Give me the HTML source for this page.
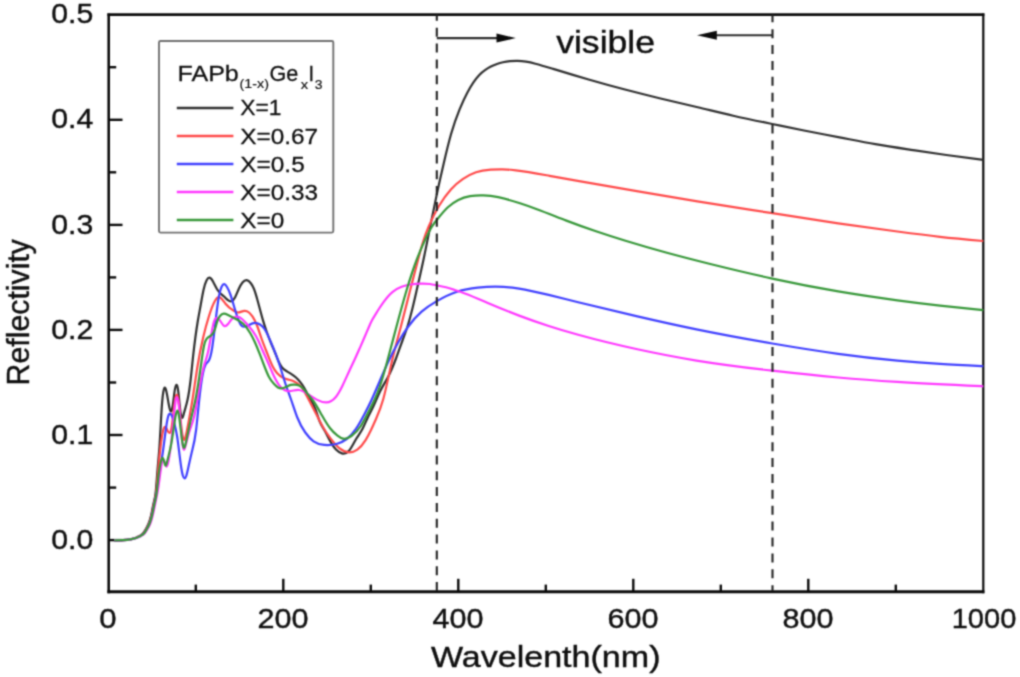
<!DOCTYPE html>
<html lang="en"><head><meta charset="utf-8"><title>Reflectivity</title>
<style>html,body{margin:0;padding:0;background:#fff}svg{display:block}text{font-family:"Liberation Sans",Arial,sans-serif;fill:#0e0e0e;stroke:#0e0e0e;stroke-width:0.4px}.lg text{stroke-width:0.28px}.lg text.sb{stroke-width:0.15px}</style></head><body>
<svg width="1020" height="677" viewBox="0 0 1020 677">
<defs><filter id="soft" x="0" y="0" width="100%" height="100%" filterUnits="userSpaceOnUse" color-interpolation-filters="sRGB"><feConvolveMatrix order="5" kernelMatrix="0.00009 0.00198 0.00548 0.00198 0.00009 0.00198 0.04220 0.11707 0.04220 0.00198 0.00548 0.11707 0.32480 0.11707 0.00548 0.00198 0.04220 0.11707 0.04220 0.00198 0.00009 0.00198 0.00548 0.00198 0.00009" edgeMode="duplicate"/></filter></defs>
<g filter="url(#soft)">
<rect width="1020" height="677" fill="#fff"/>
<g stroke="#0a0a0a" fill="none">
<line x1="108.7" y1="13.5" x2="108.7" y2="593.2" stroke-width="2.6"/>
<line x1="107.4" y1="591.8" x2="984.4" y2="591.8" stroke-width="3"/>
<line x1="107.4" y1="14.7" x2="984.4" y2="14.7" stroke-width="2.8"/>
<line x1="983.3" y1="13.6" x2="983.3" y2="593.2" stroke-width="2.2"/>
<g stroke-width="2.4">
<line x1="108.7" y1="540.1" x2="122.5" y2="540.1"/>
<line x1="108.7" y1="487.6" x2="116.2" y2="487.6"/>
<line x1="108.7" y1="435.0" x2="122.5" y2="435.0"/>
<line x1="108.7" y1="382.5" x2="116.2" y2="382.5"/>
<line x1="108.7" y1="329.9" x2="122.5" y2="329.9"/>
<line x1="108.7" y1="277.4" x2="116.2" y2="277.4"/>
<line x1="108.7" y1="224.9" x2="122.5" y2="224.9"/>
<line x1="108.7" y1="172.3" x2="116.2" y2="172.3"/>
<line x1="108.7" y1="119.8" x2="122.5" y2="119.8"/>
<line x1="108.7" y1="67.2" x2="116.2" y2="67.2"/>
<line x1="195.8" y1="591.8" x2="195.8" y2="584.6"/>
<line x1="283.3" y1="591.8" x2="283.3" y2="578.8"/>
<line x1="370.8" y1="591.8" x2="370.8" y2="584.6"/>
<line x1="458.3" y1="591.8" x2="458.3" y2="578.8"/>
<line x1="545.8" y1="591.8" x2="545.8" y2="584.6"/>
<line x1="633.3" y1="591.8" x2="633.3" y2="578.8"/>
<line x1="720.8" y1="591.8" x2="720.8" y2="584.6"/>
<line x1="808.3" y1="591.8" x2="808.3" y2="578.8"/>
<line x1="895.8" y1="591.8" x2="895.8" y2="584.6"/>
</g></g>
<g fill="none" stroke-width="2.2" stroke-linejoin="round" stroke-linecap="butt">
<path stroke="#303030" stroke-opacity="1" d="M114.20 540.30C117.00 540.31 119.80 540.32 122.60 540.15C125.46 539.98 128.32 539.62 131.18 539.10C132.59 538.84 134.01 538.55 135.42 538.00C136.84 537.45 138.25 536.65 139.67 535.90C140.83 535.29 141.98 534.70 143.14 533.30C143.99 532.26 144.85 530.78 145.70 529.30C146.60 527.74 147.50 526.19 148.40 524.00C149.00 522.54 149.60 520.80 150.20 518.70C150.77 516.71 151.33 514.40 151.90 511.60C152.50 508.63 153.10 505.12 153.70 502.70C154.30 500.28 154.90 498.95 155.50 493.90C156.17 488.29 156.83 478.09 157.50 470.00C158.17 461.91 158.83 455.94 159.50 446.00C160.30 434.07 161.10 416.44 161.90 405.40C162.37 398.96 162.83 394.76 163.30 392.00C163.80 389.04 164.30 387.73 164.80 387.70C165.30 387.67 165.80 388.93 166.30 391.00C167.03 394.04 167.77 398.85 168.50 403.00C169.23 407.15 169.97 410.64 170.70 411.30C171.30 411.84 171.90 410.49 172.50 407.00C173.17 403.12 173.83 396.59 174.50 392.00C175.13 387.64 175.77 385.04 176.40 384.80C177.00 384.57 177.60 386.47 178.20 391.00C178.80 395.53 179.40 402.68 180.00 408.00C180.63 413.61 181.27 417.18 181.90 417.80C182.60 418.49 183.30 415.58 184.00 413.00C185.20 408.58 186.40 405.14 187.60 399.50C188.60 394.80 189.60 388.57 190.60 380.00C191.47 372.57 192.33 363.39 193.20 355.40C193.90 348.95 194.60 343.27 195.30 338.00C196.13 331.72 196.97 326.01 197.80 321.00C198.77 315.19 199.73 310.34 200.70 305.00C201.63 299.85 202.57 294.24 203.50 290.00C204.50 285.45 205.50 282.47 206.50 280.50C207.53 278.47 208.57 277.52 209.60 277.70C210.73 277.90 211.87 279.47 213.00 281.50C214.40 284.01 215.80 287.22 217.20 289.50C219.47 293.19 221.73 294.44 224.00 296.50C226.47 298.74 228.93 301.95 231.40 301.30C232.60 300.98 233.80 299.75 235.00 297.50C236.17 295.31 237.33 292.15 238.50 289.50C239.83 286.47 241.17 284.12 242.50 282.50C243.90 280.80 245.30 279.92 246.70 280.10C248.13 280.28 249.57 281.57 251.00 283.50C252.00 284.84 253.00 286.50 254.00 289.00C255.10 291.75 256.20 295.53 257.30 299.50C258.20 302.75 259.10 306.13 260.00 309.50C261.00 313.25 262.00 316.99 263.00 320.40C264.20 324.49 265.40 328.11 266.60 331.50C268.07 335.65 269.53 339.46 271.00 343.00C272.47 346.54 273.93 349.81 275.40 353.50C276.47 356.18 277.53 359.08 278.60 361.50C279.73 364.07 280.87 366.08 282.00 367.50C283.33 369.17 284.67 370.00 286.00 370.80C287.57 371.74 289.13 372.63 290.70 373.60C292.47 374.70 294.23 375.90 296.00 377.50C297.37 378.74 298.73 380.22 300.10 381.90C301.40 383.49 302.70 385.26 304.00 387.50C305.33 389.79 306.67 392.58 308.00 395.00C310.50 399.54 313.00 402.78 315.50 409.50C316.83 413.08 318.17 417.65 319.50 421.00C321.30 425.52 323.10 427.81 324.90 431.00C326.27 433.42 327.63 436.36 329.00 439.00C331.33 443.51 333.67 447.15 336.00 449.60C337.97 451.67 339.93 452.90 341.90 453.40C344.27 454.01 346.63 453.57 349.00 450.80C351.37 448.03 353.73 442.93 356.10 439.00C358.30 435.35 360.50 432.71 362.70 428.50C364.47 425.12 366.23 420.73 368.00 417.00C369.77 413.27 371.53 410.21 373.30 406.50C375.53 401.81 377.77 396.10 380.00 391.50C382.67 386.01 385.33 382.10 388.00 377.00C390.67 371.90 393.33 365.61 396.00 358.50C398.17 352.72 400.33 346.40 402.50 340.50C404.27 335.69 406.03 331.15 407.80 325.50C409.30 320.71 410.80 315.12 412.30 309.00C413.70 303.29 415.10 297.13 416.50 291.00C418.67 281.52 420.83 272.12 423.00 262.00C425.90 248.45 428.80 233.60 431.70 219.10C433.70 209.10 435.70 199.27 437.70 190.00C439.67 180.89 441.63 172.32 443.60 163.90C446.07 153.33 448.53 142.99 451.00 134.30C453.83 124.32 456.67 116.52 459.50 109.60C462.10 103.25 464.70 97.64 467.30 92.70C471.23 85.23 475.17 79.28 479.10 75.20C481.07 73.16 483.03 71.59 485.00 70.20C486.97 68.81 488.93 67.61 490.90 66.60C492.93 65.55 494.97 64.71 497.00 64.00C499.00 63.30 501.00 62.74 503.00 62.30C505.33 61.78 507.67 61.43 510.00 61.20C512.57 60.94 515.13 60.83 517.70 60.90C520.47 60.97 523.23 61.26 526.00 61.70C529.13 62.20 532.27 62.90 535.40 63.70C541.33 65.21 547.27 67.07 553.20 68.90C565.00 72.54 576.80 76.09 588.60 79.50C600.40 82.91 612.20 86.19 624.00 89.30C635.83 92.42 647.67 95.37 659.50 98.20C672.23 101.24 684.97 104.15 697.70 107.20C709.53 110.03 721.37 113.00 733.20 115.70C746.17 118.66 759.13 121.32 772.10 124.00C782.73 126.20 793.37 128.41 804.00 130.50C815.83 132.83 827.67 135.00 839.50 137.30C851.47 139.63 863.43 142.09 875.40 144.20C887.23 146.29 899.07 148.03 910.90 149.80C922.70 151.57 934.50 153.36 946.30 155.00C958.63 156.71 970.97 158.26 983.30 159.80"/>
<path stroke="#ff4a4a" stroke-opacity="1" d="M114.20 540.30C117.02 540.31 119.83 540.32 122.65 540.15C125.56 539.98 128.46 539.62 131.37 539.10C132.81 538.84 134.24 538.55 135.68 538.00C137.12 537.45 138.55 536.65 139.99 535.90C141.17 535.29 142.34 534.71 143.52 533.30C144.38 532.27 145.24 530.79 146.10 529.30C147.00 527.74 147.90 526.18 148.80 524.00C149.40 522.55 150.00 520.82 150.60 518.70C151.17 516.70 151.73 514.35 152.30 511.60C152.90 508.68 153.50 505.31 154.10 502.70C154.70 500.09 155.30 498.25 155.90 493.90C156.67 488.35 157.43 478.71 158.20 470.00C158.97 461.29 159.73 453.51 160.50 447.00C161.33 439.93 162.17 434.37 163.00 431.00C163.80 427.77 164.60 426.55 165.40 427.00C166.10 427.39 166.80 429.06 167.50 430.50C168.20 431.94 168.90 433.16 169.60 433.00C170.23 432.85 170.87 431.57 171.50 428.00C172.17 424.24 172.83 417.95 173.50 412.00C174.07 406.94 174.63 402.12 175.20 399.00C175.67 396.43 176.13 395.00 176.60 394.80C177.07 394.60 177.53 395.62 178.00 398.00C178.67 401.40 179.33 407.55 180.00 414.00C180.67 420.45 181.33 427.18 182.00 432.00C182.57 436.10 183.13 438.81 183.70 439.60C184.30 440.44 184.90 439.13 185.50 437.00C186.33 434.04 187.17 429.50 188.00 425.00C189.47 417.08 190.93 409.27 192.40 400.00C194.00 389.89 195.60 378.04 197.20 368.00C199.17 355.66 201.13 346.06 203.10 337.70C205.07 329.34 207.03 322.23 209.00 316.00C210.97 309.77 212.93 304.42 214.90 301.00C216.27 298.62 217.63 297.18 219.00 297.20C221.17 297.23 223.33 300.96 225.50 303.70C228.27 307.20 231.03 309.11 233.80 310.80C235.17 311.64 236.53 312.42 237.90 312.50C240.07 312.63 242.23 311.00 244.40 310.80C245.93 310.66 247.47 311.24 249.00 312.50C250.20 313.49 251.40 314.89 252.60 316.70C254.20 319.11 255.80 322.24 257.40 326.50C258.77 330.14 260.13 334.59 261.50 338.50C262.97 342.69 264.43 346.25 265.90 350.00C268.17 355.80 270.43 362.07 272.70 366.50C274.13 369.30 275.57 371.36 277.00 373.00C279.20 375.51 281.40 377.02 283.60 378.00C285.47 378.83 287.33 379.28 289.20 379.80C290.87 380.26 292.53 380.78 294.20 381.50C296.17 382.35 298.13 383.47 300.10 385.60C301.40 387.01 302.70 388.85 304.00 391.00C305.63 393.70 307.27 396.87 308.90 400.00C311.50 404.99 314.10 409.89 316.70 415.00C319.07 419.65 321.43 424.47 323.80 428.50C325.90 432.07 328.00 435.01 330.10 437.80C333.27 442.00 336.43 445.84 339.60 448.40C342.73 450.93 345.87 452.20 349.00 452.30C351.77 452.39 354.53 451.56 357.30 449.60C360.07 447.64 362.83 444.54 365.60 440.10C367.40 437.21 369.20 433.75 371.00 430.00C372.67 426.52 374.33 422.79 376.00 419.00C378.43 413.46 380.87 407.80 383.30 399.00C386.20 388.51 389.10 373.58 392.00 361.00C394.97 348.14 397.93 337.74 400.90 326.50C403.87 315.26 406.83 303.17 409.80 291.50C412.53 280.75 415.27 270.36 418.00 260.00C419.67 253.68 421.33 247.37 423.00 242.00C424.90 235.88 426.80 230.97 428.70 226.50C432.17 218.34 435.63 211.60 439.10 205.80C443.03 199.21 446.97 193.83 450.90 189.50C454.83 185.17 458.77 181.91 462.70 179.20C467.13 176.15 471.57 173.79 476.00 172.30C480.93 170.64 485.87 170.04 490.80 169.70C494.73 169.43 498.67 169.32 502.60 169.40C507.03 169.49 511.47 169.82 515.90 170.30C527.13 171.52 538.37 173.71 549.60 175.80C559.43 177.63 569.27 179.37 579.10 181.10C598.80 184.57 618.50 188.00 638.20 191.40C657.93 194.80 677.67 198.18 697.40 201.40C722.37 205.48 747.33 209.31 772.30 213.20C794.27 216.62 816.23 220.08 838.20 223.30C857.93 226.19 877.67 228.88 897.40 231.50C911.60 233.38 925.80 235.23 940.00 236.80C954.43 238.39 968.87 239.70 983.30 241.00"/>
<path stroke="#4040ff" stroke-opacity="1" d="M114.20 540.30C117.03 540.31 119.87 540.31 122.70 540.15C125.67 539.98 128.63 539.62 131.60 539.10C133.07 538.84 134.53 538.55 136.00 538.00C137.47 537.45 138.93 536.64 140.40 535.90C141.60 535.29 142.80 534.72 144.00 533.30C144.87 532.27 145.73 530.80 146.60 529.30C147.50 527.75 148.40 526.17 149.30 524.00C149.90 522.55 150.50 520.84 151.10 518.70C151.67 516.68 152.23 514.29 152.80 511.60C153.40 508.76 154.00 505.59 154.60 502.70C155.20 499.81 155.80 497.21 156.40 493.90C157.60 487.29 158.80 477.86 160.00 470.00C161.00 463.45 162.00 457.98 163.00 451.00C164.07 443.56 165.13 434.39 166.20 427.00C166.80 422.84 167.40 419.24 168.00 417.00C168.70 414.38 169.40 413.61 170.10 413.70C170.73 413.79 171.37 414.58 172.00 416.00C172.83 417.87 173.67 420.81 174.50 424.00C175.40 427.45 176.30 431.20 177.20 437.00C178.00 442.16 178.80 448.94 179.60 455.40C180.17 459.97 180.73 464.38 181.30 468.00C181.80 471.19 182.30 473.77 182.80 475.50C183.37 477.46 183.93 478.34 184.50 478.40C185.10 478.46 185.70 477.60 186.30 475.80C186.87 474.10 187.43 471.58 188.00 469.00C189.20 463.54 190.40 457.86 191.60 453.00C193.10 446.92 194.60 442.13 196.10 430.00C197.13 421.64 198.17 409.80 199.20 400.00C200.47 387.99 201.73 379.05 203.00 373.00C203.80 369.18 204.60 366.51 205.40 364.90C206.60 362.48 207.80 362.44 209.00 360.20C209.97 358.39 210.93 355.16 211.90 349.50C212.70 344.81 213.50 338.47 214.30 331.80C214.97 326.24 215.63 320.47 216.30 315.00C217.20 307.62 218.10 300.81 219.00 296.00C219.83 291.55 220.67 288.82 221.50 287.00C222.43 284.96 223.37 284.04 224.30 284.20C225.20 284.35 226.10 285.50 227.00 287.00C228.07 288.78 229.13 291.07 230.20 294.00C231.57 297.76 232.93 302.58 234.30 307.20C235.70 311.93 237.10 316.44 238.50 320.00C239.33 322.12 240.17 323.90 241.00 325.00C241.93 326.24 242.87 326.62 243.80 326.70C245.53 326.84 247.27 325.93 249.00 325.00C251.00 323.93 253.00 322.86 255.00 322.80C256.67 322.75 258.33 323.42 260.00 324.50C261.50 325.48 263.00 326.79 264.50 329.00C266.83 332.43 269.17 338.01 271.50 343.60C273.87 349.27 276.23 354.97 278.60 362.00C280.97 369.03 283.33 377.41 285.70 384.50C287.53 390.00 289.37 394.73 291.20 400.00C293.17 405.66 295.13 411.94 297.10 417.00C299.83 424.03 302.57 428.69 305.30 432.50C308.07 436.36 310.83 439.35 313.60 441.30C317.13 443.79 320.67 444.59 324.20 444.90C328.53 445.28 332.87 444.94 337.20 443.70C340.37 442.79 343.53 441.41 346.70 439.00C349.83 436.62 352.97 433.23 356.10 428.60C358.87 424.51 361.63 419.45 364.40 414.20C366.77 409.71 369.13 405.09 371.50 400.00C374.33 393.91 377.17 387.14 380.00 380.50C383.03 373.39 386.07 366.42 389.10 360.00C392.07 353.72 395.03 347.96 398.00 342.70C401.43 336.61 404.87 331.19 408.30 326.50C412.73 320.44 417.17 315.59 421.60 311.70C426.53 307.37 431.47 304.24 436.40 301.40C443.27 297.44 450.13 294.05 457.00 291.80C463.90 289.54 470.80 288.44 477.70 287.70C483.63 287.06 489.57 286.69 495.50 286.70C503.37 286.71 511.23 287.39 519.10 288.60C528.97 290.12 538.83 292.48 548.70 294.90C558.53 297.31 568.37 299.77 578.20 302.20C597.93 307.08 617.67 311.83 637.40 316.40C657.10 320.97 676.80 325.36 696.50 329.40C721.77 334.58 747.03 339.18 772.30 343.50C794.27 347.25 816.23 350.79 838.20 353.80C857.93 356.50 877.67 358.77 897.40 360.60C911.60 361.92 925.80 363.01 940.00 363.90C954.43 364.81 968.87 365.50 983.30 366.20"/>
<path stroke="#ff38ff" stroke-opacity="1" d="M114.20 540.30C117.06 540.31 119.93 540.31 122.79 540.15C125.85 539.98 128.91 539.62 131.97 539.10C133.48 538.84 135.00 538.55 136.51 538.00C138.02 537.45 139.54 536.64 141.05 535.90C142.29 535.30 143.53 534.75 144.77 533.30C145.65 532.28 146.52 530.81 147.40 529.30C148.30 527.75 149.20 526.17 150.10 524.00C150.70 522.55 151.30 520.84 151.90 518.70C152.47 516.68 153.03 514.28 153.60 511.60C154.20 508.76 154.80 505.60 155.40 502.70C156.00 499.80 156.60 497.14 157.20 493.90C157.97 489.76 158.73 484.66 159.50 479.00C160.17 474.08 160.83 468.74 161.50 465.00C162.10 461.63 162.70 459.56 163.30 459.50C163.87 459.44 164.43 461.17 165.00 463.00C165.53 464.73 166.07 466.55 166.60 466.60C167.23 466.66 167.87 464.22 168.50 461.00C169.50 455.92 170.50 448.89 171.50 440.00C172.33 432.59 173.17 423.90 174.00 415.00C174.50 409.66 175.00 404.25 175.50 401.00C175.93 398.19 176.37 397.00 176.80 397.00C177.27 397.00 177.73 398.38 178.20 401.00C178.90 404.93 179.60 411.66 180.30 420.00C180.93 427.54 181.57 436.40 182.20 442.00C182.73 446.71 183.27 449.11 183.80 449.50C184.37 449.92 184.93 448.07 185.50 446.00C186.67 441.74 187.83 436.52 189.00 432.60C190.60 427.22 192.20 424.26 193.80 418.00C194.93 413.57 196.07 407.47 197.20 401.00C199.33 388.81 201.47 375.27 203.60 367.20C205.00 361.90 206.40 358.96 207.80 353.00C208.77 348.88 209.73 343.33 210.70 337.70C211.70 331.88 212.70 325.98 213.70 322.50C214.67 319.14 215.63 318.05 216.60 317.90C217.73 317.73 218.87 318.86 220.00 320.50C221.43 322.57 222.87 325.46 224.30 326.10C225.53 326.65 226.77 325.54 228.00 324.00C229.13 322.58 230.27 320.80 231.40 319.50C233.37 317.25 235.33 316.47 237.30 316.70C238.87 316.88 240.43 317.70 242.00 319.00C243.57 320.30 245.13 322.07 246.70 323.80C248.67 325.98 250.63 328.09 252.60 330.80C254.40 333.28 256.20 336.25 258.00 340.00C259.47 343.06 260.93 346.64 262.40 350.00C264.27 354.28 266.13 358.20 268.00 362.50C269.50 365.95 271.00 369.65 272.50 373.00C274.63 377.77 276.77 381.85 278.90 384.80C280.87 387.52 282.83 389.26 284.80 390.20C286.87 391.18 288.93 391.27 291.00 391.00C293.67 390.65 296.33 389.69 299.00 390.00C301.73 390.31 304.47 391.95 307.20 393.70C310.37 395.73 313.53 397.91 316.70 399.60C319.90 401.31 323.10 402.51 326.30 402.40C329.40 402.29 332.50 400.96 335.60 397.20C337.93 394.37 340.27 390.17 342.60 385.40C344.90 380.70 347.20 375.46 349.50 370.50C351.33 366.55 353.17 362.78 355.00 358.80C356.67 355.18 358.33 351.39 360.00 347.60C361.50 344.19 363.00 340.79 364.50 337.30C365.97 333.89 367.43 330.39 368.90 327.00C369.93 324.61 370.97 322.28 372.00 320.30C373.00 318.39 374.00 316.81 375.00 315.20C376.50 312.79 378.00 310.32 379.50 308.00C380.97 305.73 382.43 303.61 383.90 301.60C385.27 299.73 386.63 297.96 388.00 296.40C389.57 294.61 391.13 293.08 392.70 291.80C395.67 289.37 398.63 287.81 401.60 286.70C404.53 285.60 407.47 284.96 410.40 284.50C413.93 283.95 417.47 283.69 421.00 283.60C423.97 283.53 426.93 283.58 429.90 284.00C432.27 284.33 434.63 284.90 437.00 285.40C439.97 286.03 442.93 286.54 445.90 287.30C448.83 288.05 451.77 289.03 454.70 290.00C458.10 291.13 461.50 292.25 464.90 293.50C473.13 296.52 481.37 300.27 489.60 303.80C499.43 308.01 509.27 311.91 519.10 315.60C528.97 319.30 538.83 322.80 548.70 326.00C558.53 329.19 568.37 332.08 578.20 334.80C597.93 340.26 617.67 345.01 637.40 349.30C657.10 353.58 676.80 357.40 696.50 360.60C721.77 364.71 747.03 367.81 772.30 370.70C794.27 373.21 816.23 375.55 838.20 377.50C857.93 379.25 877.67 380.68 897.40 381.90C926.03 383.67 954.67 384.98 983.30 386.30"/>
<path stroke="#38983a" stroke-opacity="1" d="M114.20 540.30C117.04 540.31 119.87 540.31 122.71 540.15C125.69 539.98 128.67 539.62 131.65 539.10C133.12 538.84 134.59 538.55 136.06 538.00C137.53 537.45 139.01 536.64 140.48 535.90C141.69 535.29 142.89 534.73 144.10 533.30C144.97 532.27 145.83 530.79 146.70 529.30C147.60 527.75 148.50 526.18 149.40 524.00C150.00 522.55 150.60 520.82 151.20 518.70C151.77 516.70 152.33 514.35 152.90 511.60C153.50 508.69 154.10 505.34 154.70 502.70C155.30 500.06 155.90 498.14 156.50 493.90C157.23 488.71 157.97 480.06 158.70 474.00C159.40 468.22 160.10 464.80 160.80 462.00C161.37 459.73 161.93 457.86 162.50 457.80C163.00 457.75 163.50 459.10 164.00 461.00C164.47 462.77 164.93 465.03 165.40 465.50C166.10 466.21 166.80 462.92 167.50 460.00C168.77 454.72 170.03 450.65 171.30 443.60C172.50 436.92 173.70 427.55 174.90 420.00C175.67 415.17 176.43 411.08 177.20 410.70C177.80 410.40 178.40 412.37 179.00 416.00C179.83 421.05 180.67 429.31 181.50 436.00C182.23 441.89 182.97 446.56 183.70 447.50C184.47 448.48 185.23 445.37 186.00 442.00C187.80 434.08 189.60 424.71 191.40 417.00C192.73 411.29 194.07 406.49 195.40 400.00C197.17 391.40 198.93 379.83 200.70 367.20C201.87 358.86 203.03 350.05 204.20 345.00C205.40 339.81 206.60 338.59 207.80 337.70C209.37 336.54 210.93 335.95 212.50 334.00C213.33 332.96 214.17 331.55 215.00 329.00C215.73 326.76 216.47 323.65 217.20 321.40C218.13 318.54 219.07 317.08 220.00 316.00C221.23 314.58 222.47 313.82 223.70 313.70C225.13 313.56 226.57 314.28 228.00 315.00C229.93 315.97 231.87 316.96 233.80 317.90C236.93 319.43 240.07 320.85 243.20 323.80C245.57 326.03 247.93 329.14 250.30 333.20C251.87 335.89 253.43 339.00 255.00 342.50C256.67 346.22 258.33 350.38 260.00 354.70C261.50 358.59 263.00 362.60 264.50 366.50C266.00 370.40 267.50 374.18 269.00 377.00C270.63 380.07 272.27 382.01 273.90 383.80C275.27 385.30 276.63 386.69 278.00 387.50C279.10 388.15 280.20 388.42 281.30 388.40C282.87 388.37 284.43 387.76 286.00 387.00C287.57 386.24 289.13 385.31 290.70 384.90C292.13 384.52 293.57 384.57 295.00 384.70C296.33 384.82 297.67 385.02 299.00 385.60C300.33 386.18 301.67 387.14 303.00 388.50C304.40 389.93 305.80 391.80 307.20 393.50C309.13 395.85 311.07 397.86 313.00 400.50C315.97 404.54 318.93 410.04 321.90 415.30C324.63 420.15 327.37 424.79 330.10 428.30C332.47 431.34 334.83 433.52 337.20 435.40C339.17 436.96 341.13 438.30 343.10 438.70C345.87 439.26 348.63 437.93 351.40 436.00C354.53 433.81 357.67 430.85 360.80 426.00C363.17 422.34 365.53 417.60 367.90 413.00C370.07 408.79 372.23 404.70 374.40 400.00C376.27 395.95 378.13 391.46 380.00 386.00C382.53 378.59 385.07 369.41 387.60 360.00C390.57 348.98 393.53 337.64 396.50 326.50C399.93 313.61 403.37 300.99 406.80 289.50C410.07 278.57 413.33 268.67 416.60 260.00C419.17 253.19 421.73 247.14 424.30 241.50C426.77 236.08 429.23 231.03 431.70 227.00C434.17 222.97 436.63 219.95 439.10 217.00C442.03 213.49 444.97 210.08 447.90 207.30C451.37 204.02 454.83 201.62 458.30 199.90C462.23 197.95 466.17 196.86 470.10 196.20C474.53 195.45 478.97 195.24 483.40 195.40C488.33 195.58 493.27 196.21 498.20 197.20C505.47 198.66 512.73 200.90 520.00 203.30C525.63 205.16 531.27 207.12 536.90 209.20C546.73 212.83 556.57 216.83 566.40 220.60C576.27 224.39 586.13 227.95 596.00 231.30C605.83 234.64 615.67 237.78 625.50 240.80C639.30 245.03 653.10 249.03 666.90 252.80C681.70 256.84 696.50 260.63 711.30 264.30C731.63 269.35 751.97 274.18 772.30 278.60C794.27 283.38 816.23 287.67 838.20 291.40C857.93 294.75 877.67 297.64 897.40 300.30C911.60 302.21 925.80 304.00 940.00 305.60C954.43 307.23 968.87 308.66 983.30 310.10"/>
</g>
<g stroke="#222" stroke-width="2.1" stroke-dasharray="9 6.84" stroke-dashoffset="2.84">
<line x1="436.8" y1="14.7" x2="436.8" y2="591"/>
<line x1="772.5" y1="14.7" x2="772.5" y2="591" stroke-dasharray="9 6.885" stroke-dashoffset="1.4"/>
</g>
<g stroke="#2c2c2c" stroke-width="2.1" fill="#0a0a0a">
<line x1="436.8" y1="38.1" x2="500" y2="38.1"/><path stroke="none" d="M515.8 38.1L496.5 33.6L496.5 42.6Z"/>
<line x1="772.5" y1="35.3" x2="712" y2="35.3"/><path stroke="none" d="M697 35.3L716.8 30.8L716.8 39.8Z"/>
</g>
<g font-size="27.9">
<text x="51.2" y="548.7" textLength="42" lengthAdjust="spacingAndGlyphs">0.0</text>
<text x="51.2" y="443.6" textLength="42" lengthAdjust="spacingAndGlyphs">0.1</text>
<text x="51.2" y="338.5" textLength="42" lengthAdjust="spacingAndGlyphs">0.2</text>
<text x="51.2" y="233.5" textLength="42" lengthAdjust="spacingAndGlyphs">0.3</text>
<text x="51.2" y="128.4" textLength="42" lengthAdjust="spacingAndGlyphs">0.4</text>
<text x="51.2" y="23.3" textLength="42" lengthAdjust="spacingAndGlyphs">0.5</text>
<text x="108.0" y="627.6" text-anchor="middle" textLength="17.3" lengthAdjust="spacingAndGlyphs">0</text>
<text x="283.0" y="627.6" text-anchor="middle" textLength="51.0" lengthAdjust="spacingAndGlyphs">200</text>
<text x="458.0" y="627.6" text-anchor="middle" textLength="51.0" lengthAdjust="spacingAndGlyphs">400</text>
<text x="633.0" y="627.6" text-anchor="middle" textLength="51.0" lengthAdjust="spacingAndGlyphs">600</text>
<text x="808.0" y="627.6" text-anchor="middle" textLength="51.0" lengthAdjust="spacingAndGlyphs">800</text>
<text x="984.0" y="627.6" text-anchor="middle" textLength="64.6" lengthAdjust="spacingAndGlyphs">1000</text>
</g>
<text x="430.9" y="667" font-size="29" textLength="229.6" lengthAdjust="spacingAndGlyphs">Wavelenth(nm)</text>
<text transform="translate(29.0 385.4) rotate(-90)" font-size="31.6" textLength="146.4" lengthAdjust="spacingAndGlyphs">Reflectivity</text>
<text x="556.2" y="52.7" font-size="32" textLength="98.8" lengthAdjust="spacingAndGlyphs">visible</text>
<rect x="159" y="41" width="174.3" height="191.6" rx="1.5" fill="#fff" stroke="#707070" stroke-width="1.9"/>
<g class="lg" font-size="22.8">
<text x="177.5" y="80.8" textLength="61.3" lengthAdjust="spacingAndGlyphs">FAPb</text>
<text x="239.6" y="88.3" class="sb" font-size="13" textLength="29.4" lengthAdjust="spacingAndGlyphs">(1-x)</text>
<text x="269.4" y="80.8" textLength="28.8" lengthAdjust="spacingAndGlyphs">Ge</text>
<text x="300.8" y="89" class="sb" font-size="12" textLength="7.4" lengthAdjust="spacingAndGlyphs">x</text>
<text x="308.6" y="80.8" textLength="5.6" lengthAdjust="spacingAndGlyphs">I</text>
<text x="314.8" y="89" class="sb" font-size="13" textLength="7.8" lengthAdjust="spacingAndGlyphs">3</text>
<line x1="176.8" y1="107.9" x2="233.4" y2="107.9" stroke="#303030" stroke-opacity="1" stroke-width="2.5"/>
<text x="240.3" y="115.4" textLength="41.2" lengthAdjust="spacingAndGlyphs">X=1</text>
<line x1="176.8" y1="136.0" x2="233.4" y2="136.0" stroke="#ff4a4a" stroke-opacity="1" stroke-width="2.5"/>
<text x="240.3" y="143.5" textLength="77.8" lengthAdjust="spacingAndGlyphs">X=0.67</text>
<line x1="176.8" y1="164.0" x2="233.4" y2="164.0" stroke="#4040ff" stroke-opacity="1" stroke-width="2.5"/>
<text x="240.3" y="171.5" textLength="64.4" lengthAdjust="spacingAndGlyphs">X=0.5</text>
<line x1="176.8" y1="192.1" x2="233.4" y2="192.1" stroke="#ff38ff" stroke-opacity="1" stroke-width="2.5"/>
<text x="240.3" y="199.6" textLength="77.8" lengthAdjust="spacingAndGlyphs">X=0.33</text>
<line x1="176.8" y1="220.1" x2="233.4" y2="220.1" stroke="#38983a" stroke-opacity="1" stroke-width="2.5"/>
<text x="240.3" y="227.6" textLength="44.0" lengthAdjust="spacingAndGlyphs">X=0</text>
</g>
</g>
</svg></body></html>
